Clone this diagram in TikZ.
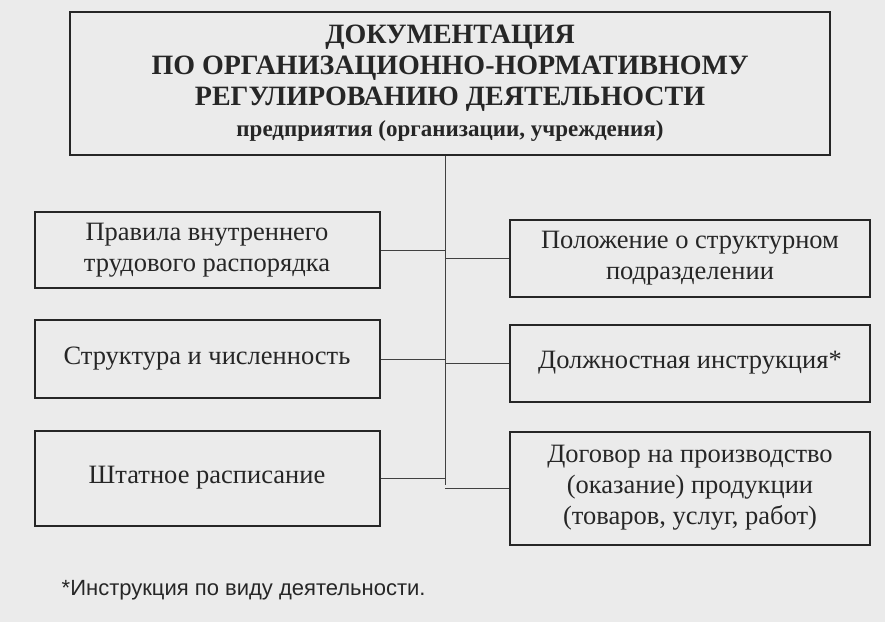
\documentclass[tikz,border=0pt]{standalone}
\usepackage{fontspec}
\setmainfont{Liberation Serif}
\newfontfamily\notefont{Liberation Sans}
\begin{document}
\begin{tikzpicture}
      [x=1pt,y=-1pt,thick,
      doc box/.style={draw=black!85,line width=2pt,align=center,inner sep=2pt,
        font=\fontsize{26.5}{31}\selectfont,text=black!85},
      link/.style={draw=black!75,line width=1pt}]
      \fill[black!8] (0,0) rectangle (885,622);
      \node[doc box,minimum width=760pt,minimum height=143pt] (top) at (450,83)
        {\bfseries\fontsize{28}{32}\selectfont ДОКУМЕНТАЦИЯ\\
         \bfseries\fontsize{28}{32}\selectfont ПО ОРГАНИЗАЦИОННО-НОРМАТИВНОМУ\\
         \bfseries\fontsize{28}{32}\selectfont РЕГУЛИРОВАНИЮ ДЕЯТЕЛЬНОСТИ\\
         \bfseries\fontsize{23}{30}\selectfont предприятия (организации, учреждения)};
      \node[doc box,minimum width=345pt,minimum height=76pt] (l1) at (207,250)
        {Правила внутреннего\\трудового распорядка};
      \node[doc box,minimum width=345pt,minimum height=78pt] (l2) at (207,359)
        {Структура и численность};
      \node[doc box,minimum width=345pt,minimum height=95pt] (l3) at (207,478)
        {Штатное расписание};
      \node[doc box,minimum width=360pt,minimum height=77pt] (r1) at (690,258)
        {Положение о структурном\\подразделении};
      \node[doc box,minimum width=360pt,minimum height=77pt] (r2) at (690,363)
        {Должностная инструкция*};
      \node[doc box,minimum width=360pt,minimum height=113pt] (r3) at (690,488)
        {Договор на производство\\(оказание) продукции\\(товаров, услуг, работ)};
      \coordinate (spine) at (445,485);
      \path[link] (top.south -| spine) -- (spine);
      \path[link] (l1.east) -- (l1.east -| spine);
      \path[link] (l2.east) -- (l2.east -| spine);
      \path[link] (l3.east) -- (l3.east -| spine);
      \path[link] (r1.west) -- (r1.west -| spine);
      \path[link] (r2.west) -- (r2.west -| spine);
      \path[link] (r3.west) -- (r3.west -| spine);
      \node[anchor=west,font=\notefont\fontsize{22}{26}\selectfont,text=black!85] (note) at (58,590)
        {*Инструкция по виду деятельности.};
\end{tikzpicture}
\end{document}
